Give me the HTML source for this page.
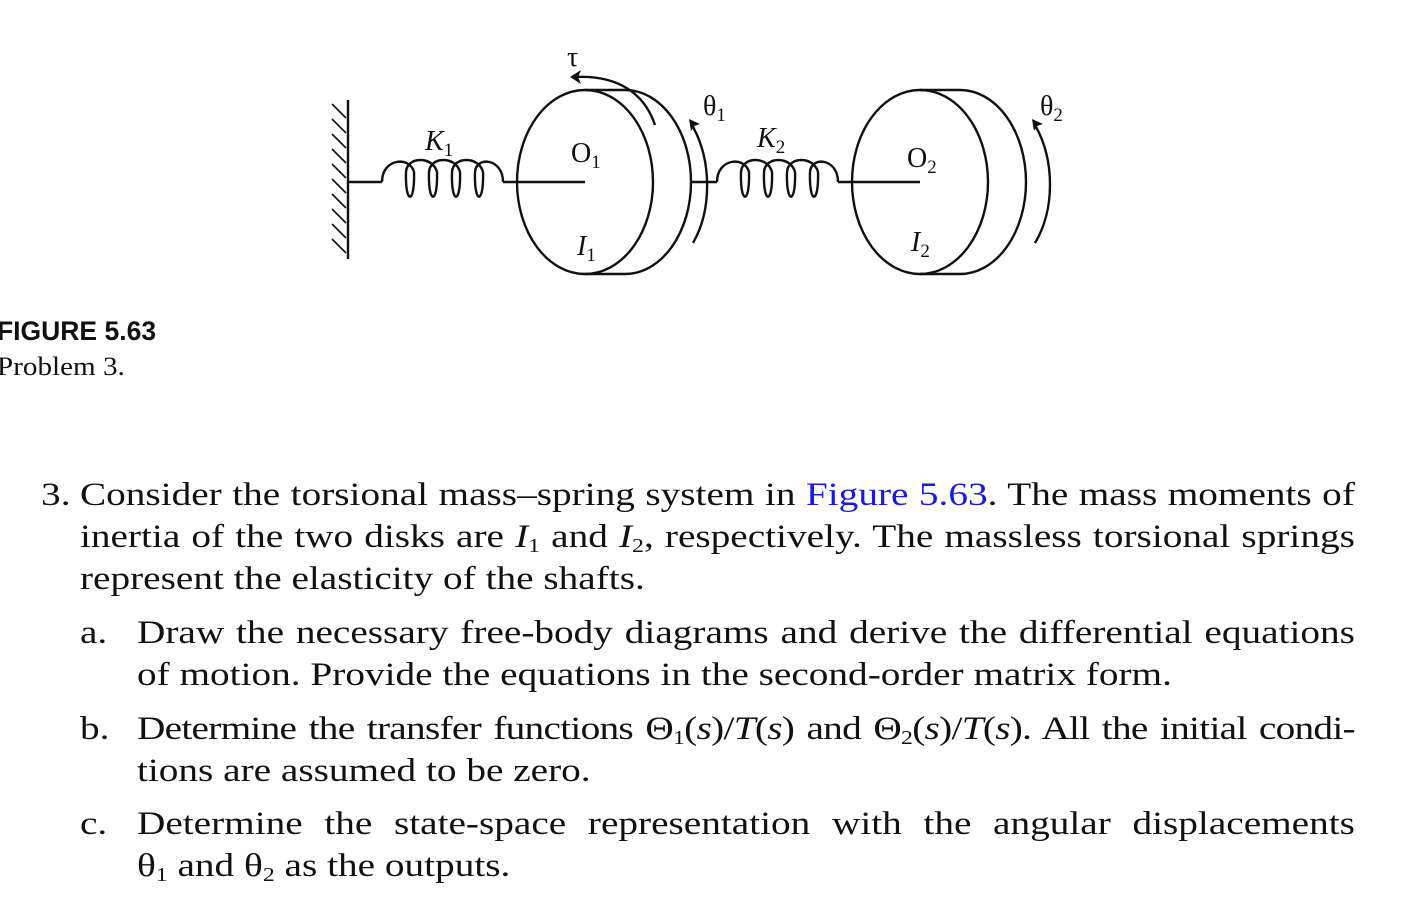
<!DOCTYPE html>
<html><head><meta charset="utf-8"><style>
body{margin:0;width:1422px;height:894px;background:#fff;overflow:hidden;position:relative;font-family:"Liberation Serif",serif;color:#111}
#t{position:absolute;left:0;top:3px;width:1200px;height:894px;transform:scaleX(1.19);transform-origin:0 0}
.l{position:absolute;font-size:33px;line-height:42px;white-space:nowrap}
.j{text-align:justify;text-align-last:justify;white-space:normal}
sub{font-size:20px;vertical-align:-5px;line-height:0}
a{color:#1a1adc;text-decoration:none}
</style></head><body>
<svg width="1422" height="300" style="position:absolute;left:0;top:0" xmlns="http://www.w3.org/2000/svg">
<g stroke="#111" stroke-width="2.4" fill="none">
<line x1="348" y1="100" x2="348" y2="259"/>
<path d="M332 104 l14 14 M332 119 l14 14 M332 134 l14 14 M332 149 l14 14 M332 164 l14 14 M332 179 l14 14 M332 194 l14 14 M332 209 l14 14 M332 224 l14 14 M332 239 l14 14" stroke-width="1.6"/>
<line x1="348" y1="182" x2="382" y2="182"/>
<path d="M382 182 C382 158,410 156,414 172 C415 205,405 205,406 172 C407 156,433 156,437 172 C438 205,428 205,429 172 C430 156,456 156,460 172 C461 205,451 205,452 172 C453 156,479 156,483 172 C484 205,474 205,475 172 C476 156,503 158,503 182"/>
<line x1="503" y1="182" x2="585" y2="182"/>
<ellipse cx="585" cy="182" rx="68" ry="92"/>
<path d="M585 90 L625 90 A66 92 0 0 1 625 274 L585 274"/>
<line x1="691" y1="182" x2="717" y2="182"/>
<path d="M717 182 C717 158,745 156,749 172 C750 205,740 205,741 172 C742 156,768 156,772 172 C773 205,763 205,764 172 C765 156,791 156,795 172 C796 205,786 205,787 172 C788 156,814 156,818 172 C819 205,809 205,810 172 C811 156,838 158,838 182"/>
<line x1="838" y1="182" x2="920" y2="182"/>
<ellipse cx="920" cy="182" rx="68" ry="92"/>
<path d="M920 90 L960 90 A66 92 0 0 1 960 274 L920 274"/>
<path d="M655 125 C645 95,620 75,575 77"/>
<path d="M692 125 C712 160,712 210,693 243"/>
<path d="M1035 125 C1055 160,1055 210,1035 243"/>
</g>
<g fill="#111">
<path d="M570 77 l11 -7 l-3 7 l3 7z"/>
<path d="M689 119 l2 12 l3 -5 l6 -2z"/>
<path d="M1032 119 l2 12 l3 -5 l6 -2z"/>
</g>
<g font-family="Liberation Serif,serif" font-size="28" fill="#111">
<text x="567" y="66">τ</text>
<text x="703" y="115">θ<tspan font-size="19" dy="6">1</tspan></text>
<text x="1040" y="115">θ<tspan font-size="19" dy="6">2</tspan></text>
<text x="425" y="150" font-style="italic">K<tspan font-size="19" dy="6" font-style="normal">1</tspan></text>
<text x="757" y="147" font-style="italic">K<tspan font-size="19" dy="6" font-style="normal">2</tspan></text>
<text x="571" y="162">O<tspan font-size="19" dy="6">1</tspan></text>
<text x="907" y="167">O<tspan font-size="19" dy="6">2</tspan></text>
<text x="577" y="255" font-style="italic">I<tspan font-size="19" dy="6" font-style="normal">1</tspan></text>
<text x="911" y="251" font-style="italic">I<tspan font-size="19" dy="6" font-style="normal">2</tspan></text>
</g>
</svg>
<div style="position:absolute;left:-3px;top:316px;font:bold 26.5px 'Liberation Sans',sans-serif">FIGURE 5.63</div>
<div style="position:absolute;left:-3px;top:352px;font:26px 'Liberation Serif',serif;transform:scaleX(1.12);transform-origin:0 0">Problem 3.</div>

<div id="t">
<div class="l" style="left:34.5px;top:471px">3.</div>
<div class="l j" style="left:67.2px;top:471px;width:1071.4px">Consider the torsional mass–spring system in <a>Figure 5.63</a>. The mass moments of</div>
<div class="l j" style="left:67.2px;top:513px;width:1071.4px">inertia of the two disks are <i>I</i><sub>1</sub> and <i>I</i><sub>2</sub>, respectively. The massless torsional springs</div>
<div class="l" style="left:67.2px;top:555px">represent the elasticity of the shafts.</div>

<div class="l" style="left:67.2px;top:609px">a.</div>
<div class="l j" style="left:115.1px;top:609px;width:1023.5px">Draw the necessary free-body diagrams and derive the differential equations</div>
<div class="l" style="left:115.1px;top:651px">of motion. Provide the equations in the second-order matrix form.</div>

<div class="l" style="left:67.2px;top:705px">b.</div>
<div class="l j" style="left:115.1px;top:705px;width:1023.5px;letter-spacing:-0.6px;word-spacing:-3px">Determine the transfer functions Θ<sub>1</sub>(<i>s</i>)/<i>T</i>(<i>s</i>) and Θ<sub>2</sub>(<i>s</i>)/<i>T</i>(<i>s</i>). All the initial condi-</div>
<div class="l" style="left:115.1px;top:747px">tions are assumed to be zero.</div>

<div class="l" style="left:67.2px;top:800px">c.</div>
<div class="l j" style="left:115.1px;top:800px;width:1023.5px">Determine the state-space representation with the angular displacements</div>
<div class="l" style="left:115.1px;top:842px">θ<sub>1</sub> and θ<sub>2</sub> as the outputs.</div>
</div>
</body></html>
